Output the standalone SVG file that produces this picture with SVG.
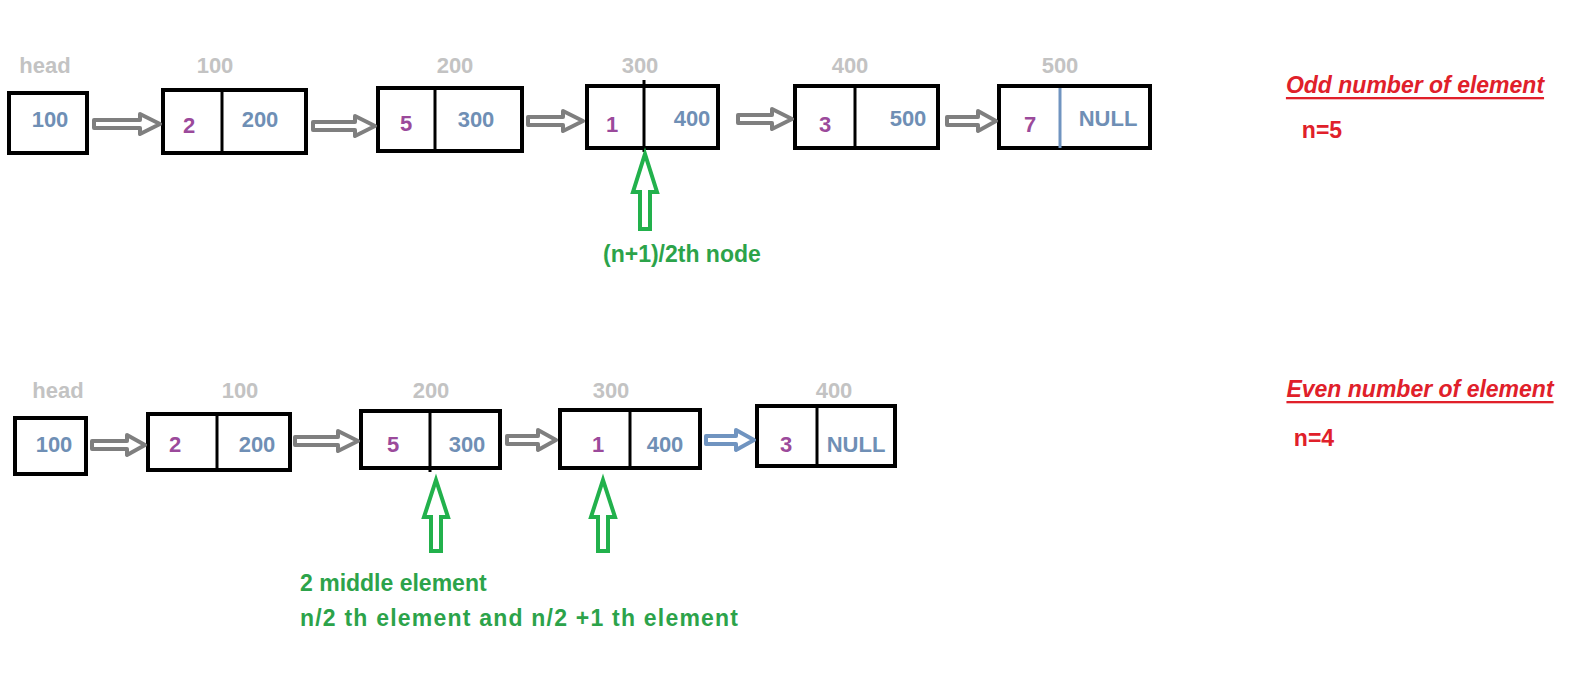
<svg xmlns="http://www.w3.org/2000/svg" width="1569" height="697" viewBox="0 0 1569 697">
<style>
text{font-family:"Liberation Sans",Arial,sans-serif;font-weight:bold;text-anchor:middle;dominant-baseline:central}
.box{fill:#fff;stroke:#000;stroke-width:4}
.div{stroke:#000;stroke-width:3}
.lbl{fill:#c3c3c3;font-size:22px}
.d{fill:#9b4a9b;font-size:22px}
.a{fill:#6f8fb5;font-size:22px}
.ar{fill:#fff;stroke:#7f7f7f;stroke-width:4;stroke-linejoin:round}
.ab{fill:#fff;stroke:#7094c0;stroke-width:4;stroke-linejoin:round}
.gr{fill:#fff;stroke:#22b14c;stroke-width:4}
.gt{fill:#2ca34a;font-size:23px;text-anchor:start}
.red{fill:#e0202a;font-size:23px}
</style>
<rect width="1569" height="697" fill="#fff"/>
<g id="labels">
<text class="lbl" x="45" y="65">head</text><text class="lbl" x="215" y="65">100</text><text class="lbl" x="455" y="65">200</text><text class="lbl" x="640" y="65">300</text><text class="lbl" x="850" y="65">400</text><text class="lbl" x="1060" y="65">500</text>
<text class="lbl" x="58" y="390">head</text><text class="lbl" x="240" y="390">100</text><text class="lbl" x="431" y="390">200</text><text class="lbl" x="611" y="390">300</text><text class="lbl" x="834" y="390">400</text>
</g>
<g id="t-head"><rect class="box" x="9" y="93" width="78" height="60"/><text class="a" x="50" y="119">100</text></g>
<g id="t-n1"><rect class="box" x="163" y="90" width="143" height="63"/><line class="div" x1="222" y1="90" x2="222" y2="153"/><text class="d" x="189" y="125">2</text><text class="a" x="260" y="119">200</text></g>
<g id="t-n2"><rect class="box" x="378" y="88" width="144" height="63"/><line class="div" x1="435" y1="88" x2="435" y2="151"/><text class="d" x="406" y="123">5</text><text class="a" x="476" y="119">300</text></g>
<g id="t-n3"><rect class="box" x="587" y="86" width="131" height="62"/><line class="div" x1="644" y1="80" x2="644" y2="152"/><text class="d" x="612" y="124">1</text><text class="a" x="692" y="118">400</text></g>
<g id="t-n4"><rect class="box" x="795" y="86" width="143" height="62"/><line class="div" x1="855" y1="86" x2="855" y2="148"/><text class="d" x="825" y="124">3</text><text class="a" x="908" y="118">500</text></g>
<g id="t-n5"><rect class="box" x="999" y="86" width="151" height="62"/><line x1="1060" y1="88" x2="1060" y2="148" stroke="#7094c0" stroke-width="3"/><text class="d" x="1030" y="124">7</text><text class="a" x="1108" y="118">NULL</text></g>
<g id="b-head"><rect class="box" x="15" y="418" width="71" height="56"/><text class="a" x="54" y="444">100</text></g>
<g id="b-n1"><rect class="box" x="148" y="414" width="142" height="56"/><line class="div" x1="217" y1="414" x2="217" y2="470"/><text class="d" x="175" y="444">2</text><text class="a" x="257" y="444">200</text></g>
<g id="b-n2"><rect class="box" x="361" y="411" width="139" height="57"/><line class="div" x1="430" y1="411" x2="430" y2="472"/><text class="d" x="393" y="444">5</text><text class="a" x="467" y="444">300</text></g>
<g id="b-n3"><rect class="box" x="560" y="410" width="140" height="58"/><line class="div" x1="630" y1="410" x2="630" y2="468"/><text class="d" x="598" y="444">1</text><text class="a" x="665" y="444">400</text></g>
<g id="b-n4"><rect class="box" x="757" y="406" width="138" height="60"/><line class="div" x1="817" y1="406" x2="817" y2="466"/><text class="d" x="786" y="444">3</text><text class="a" x="856" y="444">NULL</text></g>
<g id="connectors">
<polygon class="ar" points="94,120 140,120 140,114 160,124 140,134 140,128 94,128"/>
<polygon class="ar" points="313,122 355,122 355,116 375,126 355,136 355,130 313,130"/>
<polygon class="ar" points="528,117 563,117 563,111 583,121 563,131 563,125 528,125"/>
<polygon class="ar" points="738,115 772,115 772,109 792,119 772,129 772,123 738,123"/>
<polygon class="ar" points="947,117 978,117 978,111 996,121 978,131 978,125 947,125"/>
<polygon class="ar" points="92,441 127,441 127,435 145,445 127,455 127,449 92,449"/>
<polygon class="ar" points="295,437 338,437 338,431 358,441 338,451 338,445 295,445"/>
<polygon class="ar" points="507,436 538,436 538,430 556,440 538,450 538,444 507,444"/>
<polygon class="ab" points="706,436 736,436 736,430 754,440 736,450 736,444 706,444"/>
<polygon class="gr" points="645,154 657,192 650,192 650,229 640,229 640,192 633,192"/>
<polygon class="gr" points="436,480 448,517 441,517 441,551 431,551 431,517 424,517"/>
<polygon class="gr" points="603,480 615,517 608,517 608,551 598,551 598,517 591,517"/>
</g>
<g id="notes">
<text class="gt" x="603" y="254">(n+1)/2th node</text>
<text class="gt" x="300" y="583">2 middle element</text>
<text class="gt" x="300" y="618" textLength="438" lengthAdjust="spacing">n/2 th element and n/2 +1 th element</text>
<text class="red" x="1415" y="85" font-style="italic" text-decoration="underline">Odd number of element</text>
<text class="red" x="1322" y="130">n=5</text>
<text class="red" x="1420" y="389" font-style="italic" text-decoration="underline">Even number of element</text>
<text class="red" x="1314" y="438">n=4</text>
</g>
</svg>
